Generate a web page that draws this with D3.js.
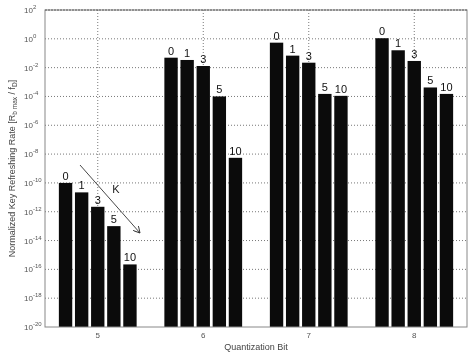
<!DOCTYPE html>
<html>
<head>
<meta charset="utf-8">
<script src="https://cdn.jsdelivr.net/npm/d3@7"></script>
<style>
  body { margin: 0; background: #fff; }
  svg { display: block; font-family: "Liberation Sans", Arial, sans-serif; will-change: transform; }
</style>
</head>
<body>
<svg id="chart" width="474" height="353"></svg>
<script>
// DATA

// quantization bits (groups on the x axis)
const bits = ["5", "6", "7", "8"];
// values of K (bars inside each group)
const kValues = ["0", "1", "3", "5", "10"];
// normalized key refreshing rate, one array per K, one entry per bit
const rateK0 = [1.0e-10, 4.9e-2, 5.4e-1, 1.1e0];
const rateK1 = [2.2e-11, 3.4e-2, 6.8e-2, 1.6e-1];
const rateK3 = [2.2e-12, 1.3e-2, 2.2e-2, 2.9e-2];
const rateK5 = [1.0e-13, 1.0e-4, 1.5e-4, 4.2e-4];
const rateK10 = [2.2e-16, 5.5e-9, 1.1e-4, 1.5e-4];
const series = [rateK0, rateK1, rateK3, rateK5, rateK10];
// y tick exponents
const yTickExp = [2, 0, -2, -4, -6, -8, -10, -12, -14, -16, -18, -20];

// LAYOUT

const margin = {left: 45, right: 7, top: 10, bottom: 26};
const w = 474, h = 353;
const svg = d3.select("#chart");

const x0 = d3.scaleBand()
  .domain(bits)
  .range([margin.left, w - margin.right]);

// inner band: bars take about 76% of each group
const groupSpan = 80.5;
const x1 = d3.scaleBand()
  .domain(kValues)
  .range([(x0.bandwidth() - groupSpan) / 2, (x0.bandwidth() + groupSpan) / 2])
  .paddingInner(0.17)
  .paddingOuter(0.085);

const y = d3.scaleLog()
  .domain([1e-20, 1e2])
  .range([h - margin.bottom, margin.top]);

// GRID

const grid = svg.append("g")
  .attr("stroke", "#555")
  .attr("stroke-width", 0.8)
  .attr("stroke-dasharray", "1,2");

grid.selectAll("line.h")
  .data(yTickExp.filter(e => e < 2 && e > -20))
  .enter()
  .append("line")
  .attr("x1", margin.left)
  .attr("x2", w - margin.right)
  .attr("y1", e => y(Math.pow(10, e)))
  .attr("y2", e => y(Math.pow(10, e)));

grid.selectAll("line.v")
  .data(bits)
  .enter()
  .append("line")
  .attr("x1", d => x0(d) + x0.bandwidth() / 2)
  .attr("x2", d => x0(d) + x0.bandwidth() / 2)
  .attr("y1", y(1e2))
  .attr("y2", y(1e-20));

// BARS

const groups = svg.selectAll("g.group")
  .data(bits)
  .enter()
  .append("g")
  .attr("class", "group")
  .attr("transform", d => `translate(${x0(d)},0)`);

groups.selectAll("rect")
  .data((d, i) => kValues.map((k, j) => ({k: k, v: series[j][i]})))
  .enter()
  .append("rect")
  .attr("x", d => x1(d.k))
  .attr("y", d => y(d.v))
  .attr("width", x1.bandwidth())
  .attr("height", d => y(1e-20) - y(d.v))
  .attr("fill", "#0b0b0b");

groups.selectAll("text")
  .data((d, i) => kValues.map((k, j) => ({k: k, v: series[j][i]})))
  .enter()
  .append("text")
  .attr("x", d => x1(d.k) + x1.bandwidth() / 2)
  .attr("y", d => y(d.v) - 3)
  .attr("text-anchor", "middle")
  .attr("font-size", 11)
  .attr("fill", "#111")
  .text(d => d.k);

// AXES BOX

svg.append("rect")
  .attr("x", margin.left)
  .attr("y", y(1e2))
  .attr("width", w - margin.right - margin.left)
  .attr("height", y(1e-20) - y(1e2))
  .attr("fill", "none")
  .attr("stroke", "#888")
  .attr("stroke-width", 1);

svg.append("line")
  .attr("x1", margin.left)
  .attr("x2", w - margin.right)
  .attr("y1", y(1e2))
  .attr("y2", y(1e2))
  .attr("stroke", "#444")
  .attr("stroke-width", 0.8)
  .attr("stroke-dasharray", "2,1");

// y tick labels, 10 with superscript exponent
const yLabels = svg.selectAll("text.ytick")
  .data(yTickExp)
  .enter()
  .append("text")
  .attr("class", "ytick")
  .attr("x", 24)
  .attr("y", e => y(Math.pow(10, e)) + 3)
  .attr("font-size", 8)
  .attr("fill", "#555");
yLabels.append("tspan").text("10");
yLabels.append("tspan")
  .attr("dy", -4)
  .attr("font-size", 6)
  .text(e => e);

// x tick labels
svg.selectAll("text.xtick")
  .data(bits)
  .enter()
  .append("text")
  .attr("class", "xtick")
  .attr("x", d => x0(d) + x0.bandwidth() / 2)
  .attr("y", y(1e-20) + 11)
  .attr("text-anchor", "middle")
  .attr("font-size", 8)
  .attr("fill", "#555")
  .text(d => d);

// axis titles
svg.append("text")
  .attr("x", (margin.left + w - margin.right) / 2)
  .attr("y", 350)
  .attr("text-anchor", "middle")
  .attr("font-size", 9)
  .attr("fill", "#444")
  .text("Quantization Bit");

const yTitle = svg.append("text")
  .attr("transform", `translate(15,${(y(1e2) + y(1e-20)) / 2}) rotate(-90)`)
  .attr("text-anchor", "middle")
  .attr("font-size", 9)
  .attr("fill", "#444");
yTitle.append("tspan").text("Normalized Key Refreshing Rate [R");
yTitle.append("tspan").attr("dy", 2).attr("font-size", 6.5).text("b max");
yTitle.append("tspan").attr("dy", -2).text(" / f");
yTitle.append("tspan").attr("dy", 2).attr("font-size", 6.5).text("D");
yTitle.append("tspan").attr("dy", -2).text("]");

// ARROW showing increasing K

svg.append("defs")
  .append("marker")
  .attr("id", "head")
  .attr("viewBox", "0 0 10 10")
  .attr("refX", 9)
  .attr("refY", 5)
  .attr("markerWidth", 8)
  .attr("markerHeight", 8)
  .attr("orient", "auto")
  .append("path")
  .attr("d", "M0,0 L9,5 L0,10")
  .attr("fill", "none")
  .attr("stroke", "#333")
  .attr("stroke-width", 1.3);

svg.append("line")
  .attr("x1", 80)
  .attr("y1", 165)
  .attr("x2", 140)
  .attr("y2", 233)
  .attr("stroke", "#333")
  .attr("stroke-width", 0.9)
  .attr("marker-end", "url(#head)");

svg.append("text")
  .attr("x", 116)
  .attr("y", 193)
  .attr("text-anchor", "middle")
  .attr("font-size", 11)
  .attr("fill", "#222")
  .text("K");
</script>
</body>
</html>
